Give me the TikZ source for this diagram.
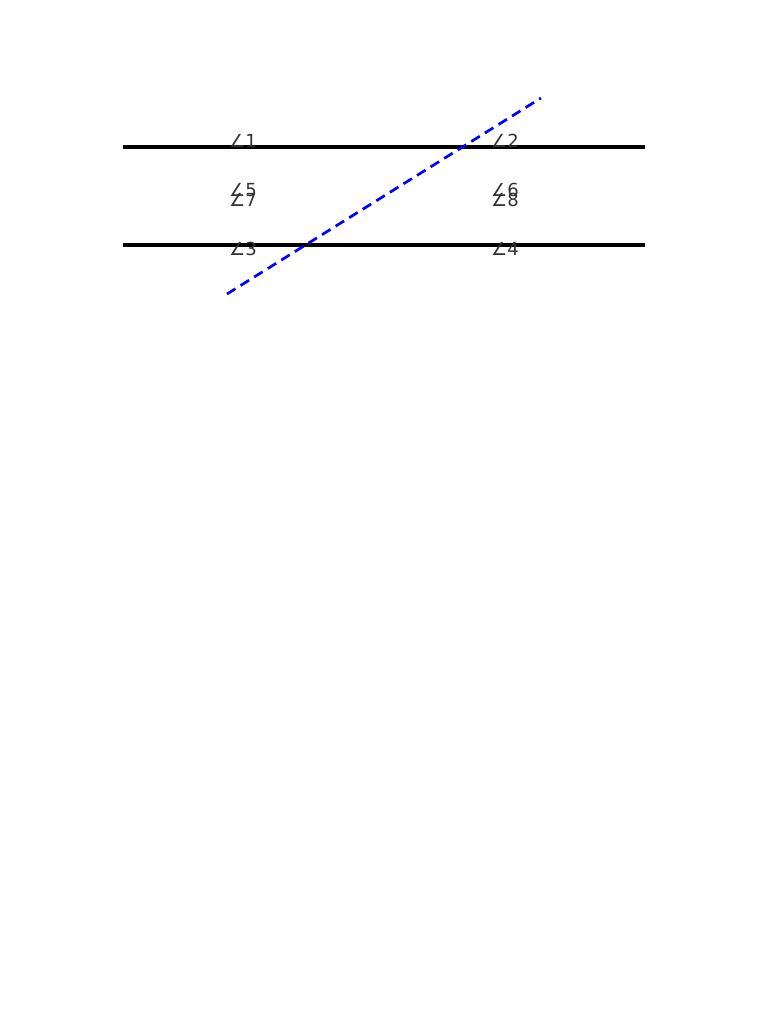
\documentclass[tikz,border=0pt]{standalone}
\usepackage{fontspec}
\setmainfont{DejaVu Sans}
\definecolor{lbl}{HTML}{333333}
\begin{document}
\begin{tikzpicture}[x=1pt,y=-1pt,
  parline/.style={line width=3.5pt,black},
  transv/.style={line width=2.7pt,blue,dash pattern=on 10pt off 6pt},
  anglbl/.style={text=lbl,font=\fontsize{18}{18}\selectfont,inner sep=0pt}]
\useasboundingbox (0,0) rectangle (768,1024);
\coordinate (l1a) at (123,147);
\coordinate (l1b) at (645,147);
\coordinate (l2a) at (123,245);
\coordinate (l2b) at (645,245);
\coordinate (ta) at (227,294);
\coordinate (tb) at (541,98);
\draw[parline] (l1a) -- (l1b);
\draw[parline] (l2a) -- (l2b);
\draw[transv] (ta) -- (tb);
\node[anglbl] (a1) at (243,141) {∠1};
\node[anglbl] (a2) at (505,141) {∠2};
\node[anglbl] (a5) at (243,190) {∠5};
\node[anglbl] (a6) at (505,190) {∠6};
\node[anglbl] (a7) at (243,200) {∠7};
\node[anglbl] (a8) at (505,200) {∠8};
\node[anglbl] (a3) at (243,249) {∠3};
\node[anglbl] (a4) at (505,249) {∠4};
\end{tikzpicture}
\end{document}
